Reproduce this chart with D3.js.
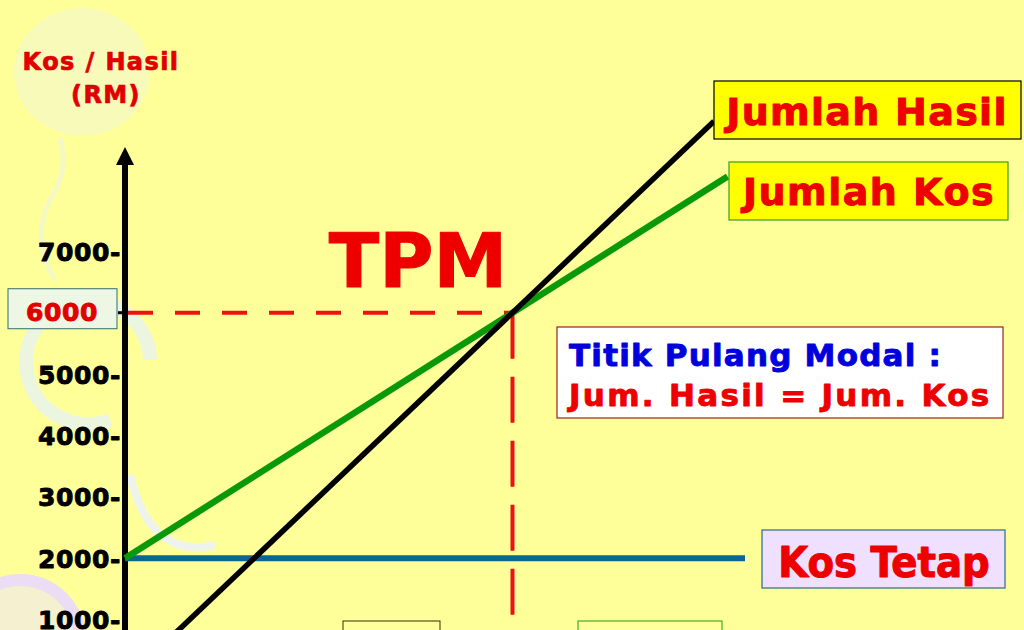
<!DOCTYPE html>
<html>
<head>
<meta charset="utf-8">
<script src="https://cdn.jsdelivr.net/npm/d3@7"></script>
<style>
  html, body { margin: 0; padding: 0; background: #ffff99; }
  svg { display: block; }
  text { font-family: "DejaVu Sans", Verdana, sans-serif; font-weight: bold; }
</style>
</head>
<body>
<div id="chart"></div>
<script>
// Chart values
const yTicks = [1000, 2000, 3000, 4000, 5000, 7000];
const breakEven = { qty: 200, value: 6000 };
const fixedCost = [[0, 2000], [320, 2000]];          // Kos Tetap
const totalCost = [[0, 2000], [311, 8220]];          // Jumlah Kos
const totalRevenue = [[0, 0], [304, 9120]];          // Jumlah Hasil
const yLabel = ['Kos / Hasil', '(RM)'];

const width = 1024, height = 630;

const svg = d3.select('#chart')
  .append('svg')
  .attr('width', width)
  .attr('height', height);

// Background + faint balloon decoration
svg.append('rect').attr('width', width).attr('height', height).attr('fill', '#ffff99');
svg.append('ellipse').attr('cx', 82).attr('cy', 72).attr('rx', 68).attr('ry', 64)
  .attr('fill', '#f4f8c4').attr('opacity', 0.7);
svg.append('path').attr('d', 'M60,138 Q70,170 50,200 Q30,240 55,280')
  .attr('fill', 'none').attr('stroke', '#f4f8c4').attr('stroke-width', 5);
svg.append('path').attr('d', 'M150,360 A62,62 0 1,0 110,420')
  .attr('fill', 'none').attr('stroke', '#e6f2f0').attr('stroke-width', 14).attr('opacity', 0.8);
svg.append('path').attr('d', 'M130,475 Q150,560 215,545')
  .attr('fill', 'none').attr('stroke', '#eef4ec').attr('stroke-width', 8);
svg.append('circle').attr('cx', 20).attr('cy', 640).attr('r', 60)
  .attr('fill', '#f5f0d0').attr('stroke', '#ecdcf4').attr('stroke-width', 12);

// Scales
const x = d3.scaleLinear().domain([0, 320]).range([125, 745]);
const y = d3.scaleLinear().domain([0, 8700]).range([681, 147]);

// Heavier bold, closer to the original slide font
function heavy(sel, colour, w) {
  return sel.attr('fill', colour).attr('stroke', colour).attr('stroke-width', w)
    .attr('stroke-linejoin', 'round');
}

// Y axis (labels with trailing dash, like the original)
const yAxis = svg.append('g')
  .attr('transform', `translate(${x(0)},0)`)
  .call(d3.axisLeft(y).tickValues(yTicks).tickSize(0).tickPadding(4).tickFormat(d => d + '-'));
yAxis.select('.domain').remove();
yAxis.selectAll('text')
  .style('font-family', '"DejaVu Sans", Verdana, sans-serif')
  .style('font-weight', 'bold')
  .style('font-size', '25px')
  .style('letter-spacing', '0.6px')
  .attr('dy', '0.36em')
  .call(heavy, '#000', 0.9);

// Axis line with arrow head
const axTop = y(8700);
svg.append('line')
  .attr('x1', x(0)).attr('x2', x(0))
  .attr('y1', height + 10).attr('y2', axTop + 10)
  .attr('stroke', '#000').attr('stroke-width', 6);
svg.append('path')
  .attr('d', `M${x(0) - 9},${axTop + 18} L${x(0)},${axTop} L${x(0) + 9},${axTop + 18} Z`)
  .attr('fill', '#000');

// Y label
svg.append('text').attr('x', 101).attr('y', 70).attr('text-anchor', 'middle')
  .style('font-size', '24px').style('letter-spacing', '1.4px').text(yLabel[0])
  .call(heavy, '#e00000', 0.7);
svg.append('text').attr('x', 106).attr('y', 103).attr('text-anchor', 'middle')
  .style('font-size', '24px').style('letter-spacing', '1.4px').text(yLabel[1])
  .call(heavy, '#e00000', 0.7);

// 6000 box
svg.append('rect').attr('x', 8).attr('y', y(breakEven.value) - 24).attr('width', 109).attr('height', 40)
  .attr('fill', '#eef6e4').attr('stroke', '#2f6f6f').attr('stroke-width', 1);
svg.append('text').attr('x', 62).attr('y', y(breakEven.value) + 8).attr('text-anchor', 'middle')
  .style('font-size', '25px').style('letter-spacing', '0.6px').text(breakEven.value)
  .call(heavy, '#e00000', 0.9);
svg.append('rect').attr('x', 118).attr('y', y(breakEven.value) - 1.5).attr('width', 4).attr('height', 3)
  .attr('fill', '#000');

const line = d3.line().x(d => x(d[0])).y(d => y(d[1]));

// Break-even dashed guides
svg.append('line')
  .attr('x1', x(0) + 3).attr('x2', x(breakEven.qty))
  .attr('y1', y(breakEven.value)).attr('y2', y(breakEven.value))
  .attr('stroke', '#ee1111').attr('stroke-width', 4).attr('stroke-dasharray', '25,22');
svg.append('line')
  .attr('x1', x(breakEven.qty)).attr('x2', x(breakEven.qty))
  .attr('y1', y(breakEven.value)).attr('y2', height)
  .attr('stroke', '#ee1111').attr('stroke-width', 4).attr('stroke-dasharray', '46,18');

// Kos Tetap
svg.append('path').datum(fixedCost).attr('d', line)
  .attr('fill', 'none').attr('stroke', '#0a6690').attr('stroke-width', 6);
// Jumlah Kos
svg.append('path').datum(totalCost).attr('d', line)
  .attr('fill', 'none').attr('stroke', '#0a990a').attr('stroke-width', 6.5);
// Jumlah Hasil
svg.append('path').datum(totalRevenue).attr('d', line)
  .attr('fill', 'none').attr('stroke', '#000').attr('stroke-width', 5.5);

// Bottom boxes (cut off at edge)
svg.append('rect').attr('x', 343).attr('y', 621).attr('width', 97).attr('height', 30)
  .attr('fill', '#ffff9c').attr('stroke', '#333300').attr('stroke-width', 1);
svg.append('rect').attr('x', 578).attr('y', 621).attr('width', 144).attr('height', 30)
  .attr('fill', '#ffff9c').attr('stroke', '#229911').attr('stroke-width', 1);

// TPM
svg.append('text').attr('x', 418).attr('y', 287).attr('text-anchor', 'middle')
  .style('font-size', '74px').text('TPM')
  .call(heavy, '#ee0000', 1);

// Line labels
function labelBox(bx, by, bw, bh, fill, stroke, txt, tx, ty, size, spacing, condensed) {
  svg.append('rect').attr('x', bx).attr('y', by).attr('width', bw).attr('height', bh)
    .attr('fill', fill).attr('stroke', stroke).attr('stroke-width', 1.2);
  const t = svg.append('text').attr('x', tx).attr('y', ty).attr('text-anchor', 'middle')
    .style('font-size', size + 'px')
    .style('letter-spacing', spacing + 'px').text(txt)
    .call(heavy, '#ee0000', 1);
  if (condensed) {
    t.style('font-family', '"DejaVu Sans Condensed", "DejaVu Sans", sans-serif')
      .style('font-stretch', 'condensed');
  }
}
labelBox(714, 81, 307, 58, '#ffff00', '#000', 'Jumlah Hasil', 867, 125, 38, 1.3, false);
labelBox(729, 162, 279, 58, '#ffff00', '#3c9a20', 'Jumlah Kos', 869, 205, 38, 1.5, false);
labelBox(762, 530, 243, 58, '#f0e0ff', '#2a6a8a', 'Kos Tetap', 884, 577, 43, 0, true);

// Titik Pulang Modal box
svg.append('rect').attr('x', 557).attr('y', 327).attr('width', 446).attr('height', 91)
  .attr('fill', '#ffffff').attr('stroke', '#a02020').attr('stroke-width', 1.2);
svg.append('text').attr('x', 569).attr('y', 366)
  .style('font-size', '31px').style('letter-spacing', '1.2px').text('Titik Pulang Modal :')
  .call(heavy, '#0000dd', 0.9);
svg.append('text').attr('x', 569).attr('y', 406)
  .style('font-size', '31px').style('letter-spacing', '2.3px').text('Jum. Hasil = Jum. Kos')
  .call(heavy, '#ee0000', 0.9);
</script>
</body>
</html>
